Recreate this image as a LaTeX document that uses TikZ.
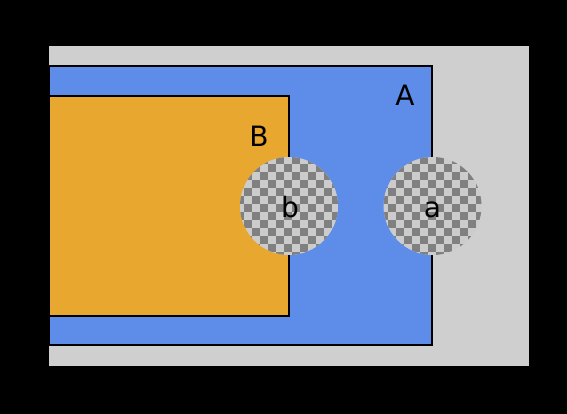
\documentclass[tikz,border=0pt]{standalone}
\usepackage{fontspec}
\setmainfont{DejaVu Sans}
\usepackage{xcolor}
\usepackage{tikz}
\usetikzlibrary{positioning}
\definecolor{bg}{HTML}{000000}
\definecolor{pane}{HTML}{CFCFCF}
\definecolor{outer}{HTML}{5D8DE8}
\definecolor{inner}{HTML}{E8A830}
\definecolor{chklight}{HTML}{CCCCCC}
\definecolor{chkdark}{HTML}{808080}
\tikzset{
  frame/.style={draw=black, line width=2.8pt, line join=miter},
  lab/.style={text=black, font=\fontsize{28}{28}\selectfont, anchor=base, inner sep=0pt},
}

\begin{document}
\begin{tikzpicture}[x=1pt, y=-1pt]
\fill[bg] (0,0) rectangle (567,414);
\useasboundingbox (0,0) rectangle (567,414);
\fill[pane] (49,46) rectangle (529,366);

\begin{scope}
\clip (49,46) rectangle (529,366);
\filldraw[frame, fill=outer] (49,66) rectangle (432,345);
\filldraw[frame, fill=inner] (49,96) rectangle (289,316);
\end{scope}

% checker holes
\begin{scope}
\clip (289,206) circle (49) (432.5,206) circle (49);
\fill[chklight] (228,148) rectangle (500,264);
\foreach \x in {228,244,...,484}
  \foreach \y in {148,164,...,248} {
    \fill[chkdark] (\x+8,\y) rectangle ++(8,8);
    \fill[chkdark] (\x,\y+8) rectangle ++(8,8);
  }
\end{scope}

\node[lab] (labA) at (405,106) {A};
\node[lab] (labB) at (259,147) {B};
\node[lab] (labb) at (290,217) {b};
\node[lab] (laba) at (432.5,217) {a};
\end{tikzpicture}
\end{document}
